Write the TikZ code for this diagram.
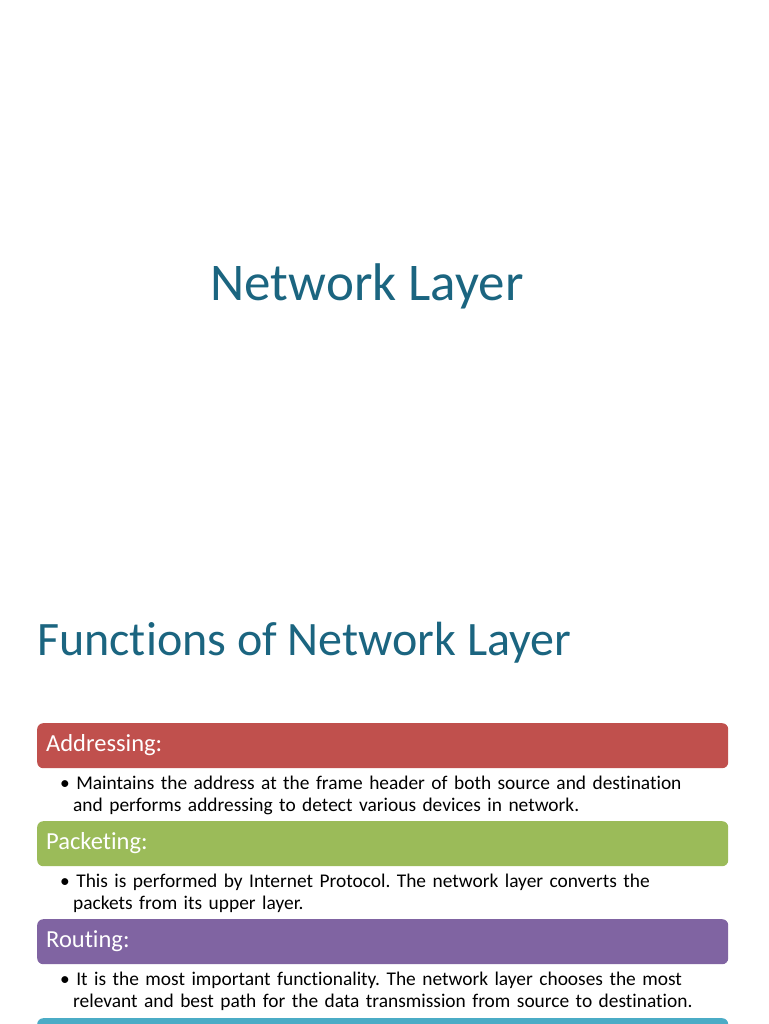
\documentclass[tikz,border=0pt]{standalone}
\usepackage{fontspec}
\setmainfont[Ligatures={NoCommon}]{Carlito}
\definecolor{ttl}{HTML}{1B6580}
\definecolor{cred}{HTML}{C0504D}
\definecolor{cgreen}{HTML}{9BBB59}
\definecolor{cpurple}{HTML}{8064A2}
\definecolor{cteal}{HTML}{4BACC6}
\frenchspacing
\tikzset{
 hdr/.style={rounded corners=6pt, inner sep=0pt, anchor=north west, minimum width=691pt, minimum height=45pt},
 hdrtxt/.style={anchor=west, text=white, font=\fontsize{24.5}{26}\selectfont, inner sep=0pt},
 body/.style={anchor=north west, font=\fontsize{19.4}{22}\selectfont, inner sep=0pt, align=left, text width=680pt}
}
\begin{document}
\begin{tikzpicture}[x=1pt,y=-1pt]
\useasboundingbox[fill=white] (0,0) rectangle (768,1024);
\node[text=ttl, font=\fontsize{53}{56}\selectfont, inner sep=0pt] (t1) at (367,286) {Network Layer};
\node[text=ttl, font=\fontsize{48}{52}\selectfont, inner sep=0pt, anchor=west] (t2) at (37,643) {Functions of Network Layer};

\node[hdr, fill=cred] (h1) at (37,723) {};
\node[hdrtxt] (h1t) at (46,745.5) {Addressing:};
\node[body] (b1) at (60,776) {\textbullet\ Maintains the address at the frame header of both source and destination\\\hspace*{13pt}and performs addressing to detect various devices in network.};

\node[hdr, fill=cgreen] (h2) at (37,821) {};
\node[hdrtxt] (h2t) at (46,843.5) {Packeting:};
\node[body] (b2) at (60,874) {\textbullet\ This is performed by Internet Protocol. The network layer converts the\\\hspace*{13pt}packets from its upper layer.};

\node[hdr, fill=cpurple] (h3) at (37,919) {};
\node[hdrtxt] (h3t) at (46,941.5) {Routing:};
\node[body] (b3) at (60,972) {\textbullet\ It is the most important functionality. The network layer chooses the most\\\hspace*{13pt}relevant and best path for the data transmission from source to destination.};

\node[hdr, fill=cteal] (h4) at (37,1018) {};
\end{tikzpicture}
\end{document}
